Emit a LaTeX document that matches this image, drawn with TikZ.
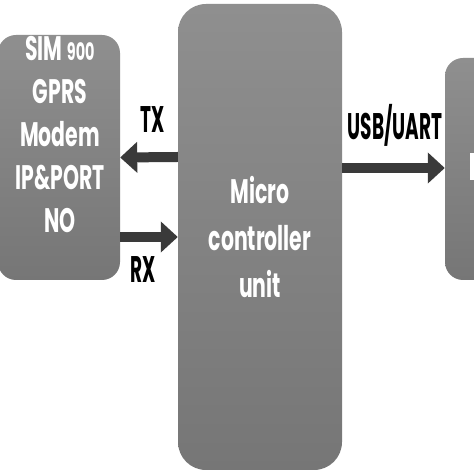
\documentclass[tikz,border=0pt]{standalone}
\usepackage{fontspec}
\setmainfont{Poppins}[FakeStretch=0.6]
\newfontfamily\lblfont{Poppins}[FakeStretch=0.5]
\usetikzlibrary{arrows.meta,positioning}

\definecolor{boxtop}{RGB}{143,143,143}
\definecolor{boxbot}{RGB}{118,118,118}
\definecolor{arrdark}{RGB}{58,58,58}

\begin{document}
\begin{tikzpicture}[x=1pt, y=1pt,
    blk/.style={rounded corners=18pt, top color=boxtop, bottom color=boxbot, draw=none, inner sep=0pt},
    txt/.style={text=white, font=\fontsize{34}{43}\selectfont\bfseries, align=center},
    arr/.style={-{Triangle[length=17pt, width=30pt]}, line width=10pt, draw=arrdark},
    lbl/.style={font=\lblfont\fontsize{37}{37}\selectfont\bfseries, text=black, inner sep=0pt}
]
\useasboundingbox[fill=white] (0,0) rectangle (474,474);

% blocks
\node[blk, minimum width=122pt, minimum height=245pt] (S) at (59,316.5) {};
\node[blk, rounded corners=28pt, minimum width=164pt, minimum height=466pt] (M) at (260,237) {};
\node[blk, minimum width=60pt, minimum height=222pt] (R) at (475,305) {};

% block texts
\node[txt, anchor=north] (St) at (60,441) {SIM {\fontsize{24}{43}\selectfont 900}\\GPRS\\Modem\\IP\&PORT\\NO};
\node[txt, font=\fontsize{34}{47}\selectfont\bfseries] (Mt) at (M.center) {Micro\\controller\\unit};
\fill[white] (470,294) rectangle (476,321);

% links
\draw[arr] ([yshift=80pt]M.west) -- (S.east);
\draw[arr] ([yshift=-79.5pt]S.east) -- (M.west);
\draw[arr] ([yshift=69pt]M.east) -- ([yshift=1pt]R.west);

% link labels
\node[lbl] (tx) at (153,354) {TX};
\node[lbl] (rx) at (143,204) {RX};
\node[lbl] (usb) at (395,349) {USB/UART};
\end{tikzpicture}
\end{document}
